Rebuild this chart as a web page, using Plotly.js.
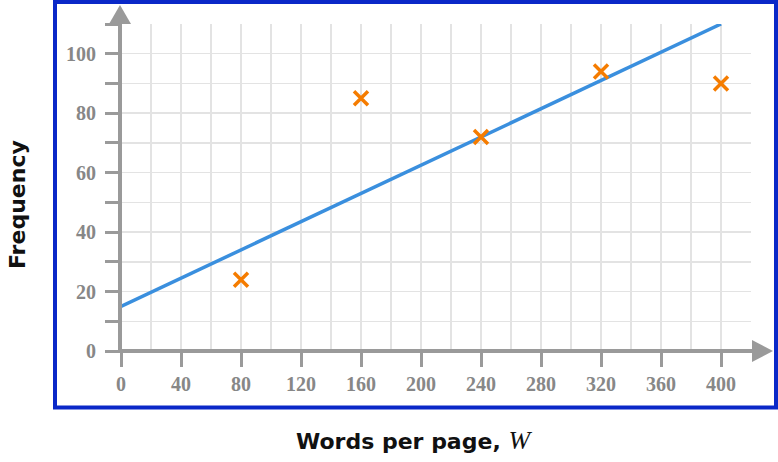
<!DOCTYPE html>
<html>
<head>
<meta charset="utf-8">
<script src="https://cdn.plot.ly/plotly-3.0.1.min.js"></script>
<style>html,body{margin:0;padding:0;background:#fff;}#chart{width:778px;height:462px;}</style>
</head>
<body>
<div id="chart"></div>
<script>
// Data
const wordsPerPage = [80, 160, 240, 320, 400];
const frequency = [24, 85, 72, 94, 90];
const lineX = [0, 400];
const lineY = [15, 110];
const xTickVals = [0, 40, 80, 120, 160, 200, 240, 280, 320, 360, 400];
const yTickVals = [0, 20, 40, 60, 80, 100];

// Layout geometry (pixels)
const W = 778, H = 462;
const M = {l: 121, r: 27, t: 24, b: 111};
const PW = W - M.l - M.r, PH = H - M.t - M.b;
const X = px => (px - M.l) / PW;
const Y = py => (H - M.b - py) / PH;

const axisColor = '#9a9a9a';
const gridColor = '#e3e3e3';
const tickFont = {family: '"Liberation Serif", "Times New Roman", serif', size: 20, color: '#878787', weight: 'bold'};
const titleFont = {family: '"DejaVu Sans", sans-serif', size: 22, color: '#111111'};

const traces = [
  {
    x: lineX, y: lineY, type: 'scatter', mode: 'lines',
    line: {color: '#3a8fde', width: 3.5}, hoverinfo: 'skip', cliponaxis: false
  },
  {
    x: wordsPerPage, y: frequency, type: 'scatter', mode: 'markers',
    marker: {symbol: 'x-thin', size: 14, color: '#f57c00', line: {color: '#f57c00', width: 3.5}},
    cliponaxis: false
  }
];

const shapes = [
  // blue frame
  {type: 'rect', xref: 'paper', yref: 'paper', x0: X(55), x1: X(776), y0: Y(2), y1: Y(407.5),
   line: {color: '#0a28c8', width: 4}, layer: 'below'},
  // y axis line
  {type: 'line', xref: 'paper', yref: 'paper', x0: X(120), x1: X(120), y0: Y(352), y1: Y(22),
   line: {color: axisColor, width: 4}, layer: 'above'},
  // x axis line
  {type: 'line', xref: 'paper', yref: 'paper', x0: X(118), x1: X(754), y0: Y(351), y1: Y(351),
   line: {color: axisColor, width: 4}, layer: 'above'},
  // y arrow head
  {type: 'path', xref: 'paper', yref: 'paper',
   path: `M ${X(109)} ${Y(24)} L ${X(120)} ${Y(5)} L ${X(131)} ${Y(24)} Z`,
   fillcolor: axisColor, line: {width: 0}, layer: 'above'},
  // x arrow head
  {type: 'path', xref: 'paper', yref: 'paper',
   path: `M ${X(752)} ${Y(340)} L ${X(773)} ${Y(351)} L ${X(752)} ${Y(362)} Z`,
   fillcolor: axisColor, line: {width: 0}, layer: 'above'}
];

const annotations = [
  {xref: 'paper', yref: 'paper', x: X(18), y: Y(205), text: '<b>Frequency</b>', textangle: -90,
   showarrow: false, font: titleFont, xanchor: 'center', yanchor: 'middle'},
  {xref: 'paper', yref: 'paper', x: X(414), y: Y(440),
   text: '<b>Words per page, </b><span style="font-family:\'Liberation Serif\',serif;font-style:italic;font-size:26px">W</span>',
   showarrow: false, font: titleFont, xanchor: 'center', yanchor: 'middle'}
];

const layout = {
  width: W, height: H,
  margin: M,
  paper_bgcolor: '#ffffff', plot_bgcolor: '#ffffff',
  showlegend: false,
  xaxis: {
    range: [0, 420], tickmode: 'array', tickvals: xTickVals,
    showgrid: true, gridcolor: gridColor, gridwidth: 1.5,
    minor: {dtick: 20, tick0: 0, showgrid: true, gridcolor: gridColor, gridwidth: 1.5, ticks: ''},
    zeroline: false, showline: false,
    ticks: 'outside', ticklen: 15, tickwidth: 3, tickcolor: axisColor,
    tickfont: tickFont, ticklabelstandoff: 0, fixedrange: true
  },
  yaxis: {
    range: [0, 110], tickmode: 'array', tickvals: yTickVals,
    showgrid: true, gridcolor: gridColor, gridwidth: 1.5,
    minor: {dtick: 10, tick0: 0, showgrid: true, gridcolor: gridColor, gridwidth: 1.5,
            ticks: 'outside', ticklen: 15, tickwidth: 3, tickcolor: axisColor},
    zeroline: false, showline: false,
    ticks: 'outside', ticklen: 15, tickwidth: 3, tickcolor: axisColor,
    tickfont: tickFont, ticklabelstandoff: 5, fixedrange: true
  },
  shapes: shapes,
  annotations: annotations
};

Plotly.newPlot('chart', traces, layout, {displayModeBar: false, staticPlot: true});
</script>
</body>
</html>
